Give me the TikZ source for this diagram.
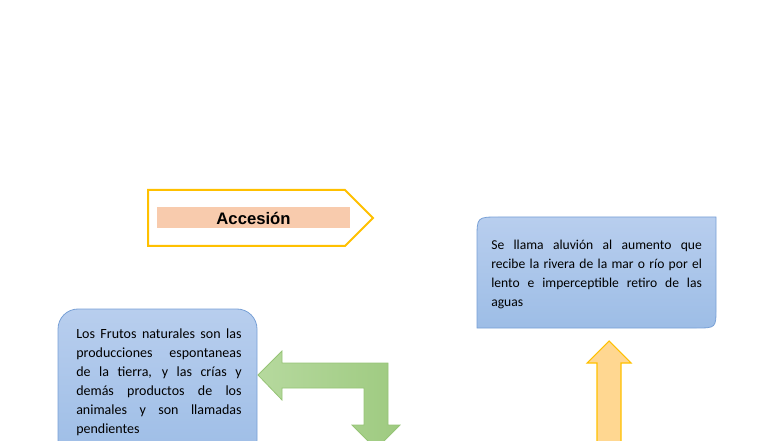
\documentclass[tikz,border=0pt]{standalone}
\usepackage{fontspec}
\setmainfont{Carlito}
\newfontfamily\titlefont{Liberation Sans}
\usepackage{xcolor}

\definecolor{boxbluetop}{RGB}{184,206,238}
\definecolor{boxbluebot}{RGB}{157,189,230}
\definecolor{boxline}{RGB}{120,160,214}
\definecolor{goldline}{RGB}{255,192,0}
\definecolor{peach}{RGB}{248,203,173}
\definecolor{greenlight}{RGB}{182,217,158}
\definecolor{greendark}{RGB}{158,202,128}
\definecolor{greenline}{RGB}{150,196,118}
\definecolor{orangefill}{RGB}{255,215,145}

\newcommand{\nohyph}{\hyphenpenalty=10000 \exhyphenpenalty=10000 \tolerance=9999 \relax}

\tikzset{
  bluebox/.style={draw=boxline, line width=0.6pt, top color=boxbluetop, bottom color=boxbluebot},
  bodytext/.style={inner sep=0pt, anchor=north west, align=justify,
    font=\fontsize{10.5}{14.25}\selectfont\nohyph},
}

\begin{document}
\begin{tikzpicture}[x=0.75pt, y=-0.75pt]
\useasboundingbox (0,0) rectangle (784,441);
\clip (0,0) rectangle (784,441);

% titulo
\draw[goldline, line width=1.5pt, fill=white] (148,190) -- (345,190) -- (373,218) -- (345,246) -- (148,246) -- cycle;
\fill[peach] (157,207) rectangle (350,228);
\node (title) at (253.5,218) {\titlefont\bfseries\fontsize{12.5}{14}\selectfont Accesión};

% aluvion
\draw[bluebox] (477,328) -- (477,239) .. controls (477,217) .. (499,217) -- (716,217)
  -- (716,308) .. controls (716,328) .. (696,328) -- cycle;
\node[bodytext, text width=158pt, font=\fontsize{10.2}{14.25}\selectfont\nohyph] (aluvion) at (491,240)
  {Se llama aluvión al aumento que\linebreak recibe la rivera de la mar o río por el\linebreak lento e imperceptible retiro de las\linebreak aguas};

% frutos
\draw[bluebox, rounded corners=15pt] (58,309) rectangle (257,460);
\node[bodytext, text width=124pt] (frutos) at (76,328.5)
  {Los Frutos naturales son las producciones espontaneas de la tierra, y las crías y demás productos de los animales y son llamadas pendientes};

% flecha verde
\draw[draw=greenline, line width=0.6pt, left color=greenlight, right color=greendark]
  (258,375) -- (282,351) -- (282,363) -- (388,363) -- (388,425) -- (400,425) -- (376,449)
  -- (352,425) -- (364,425) -- (364,388) -- (282,388) -- (282,400) -- cycle;

% flecha naranja
\draw[draw=goldline, line width=0.8pt, fill=orangefill]
  (609,341) -- (631,363) -- (621,363) -- (621,470) -- (597,470) -- (597,363) -- (587,363) -- cycle;
\end{tikzpicture}
\end{document}
